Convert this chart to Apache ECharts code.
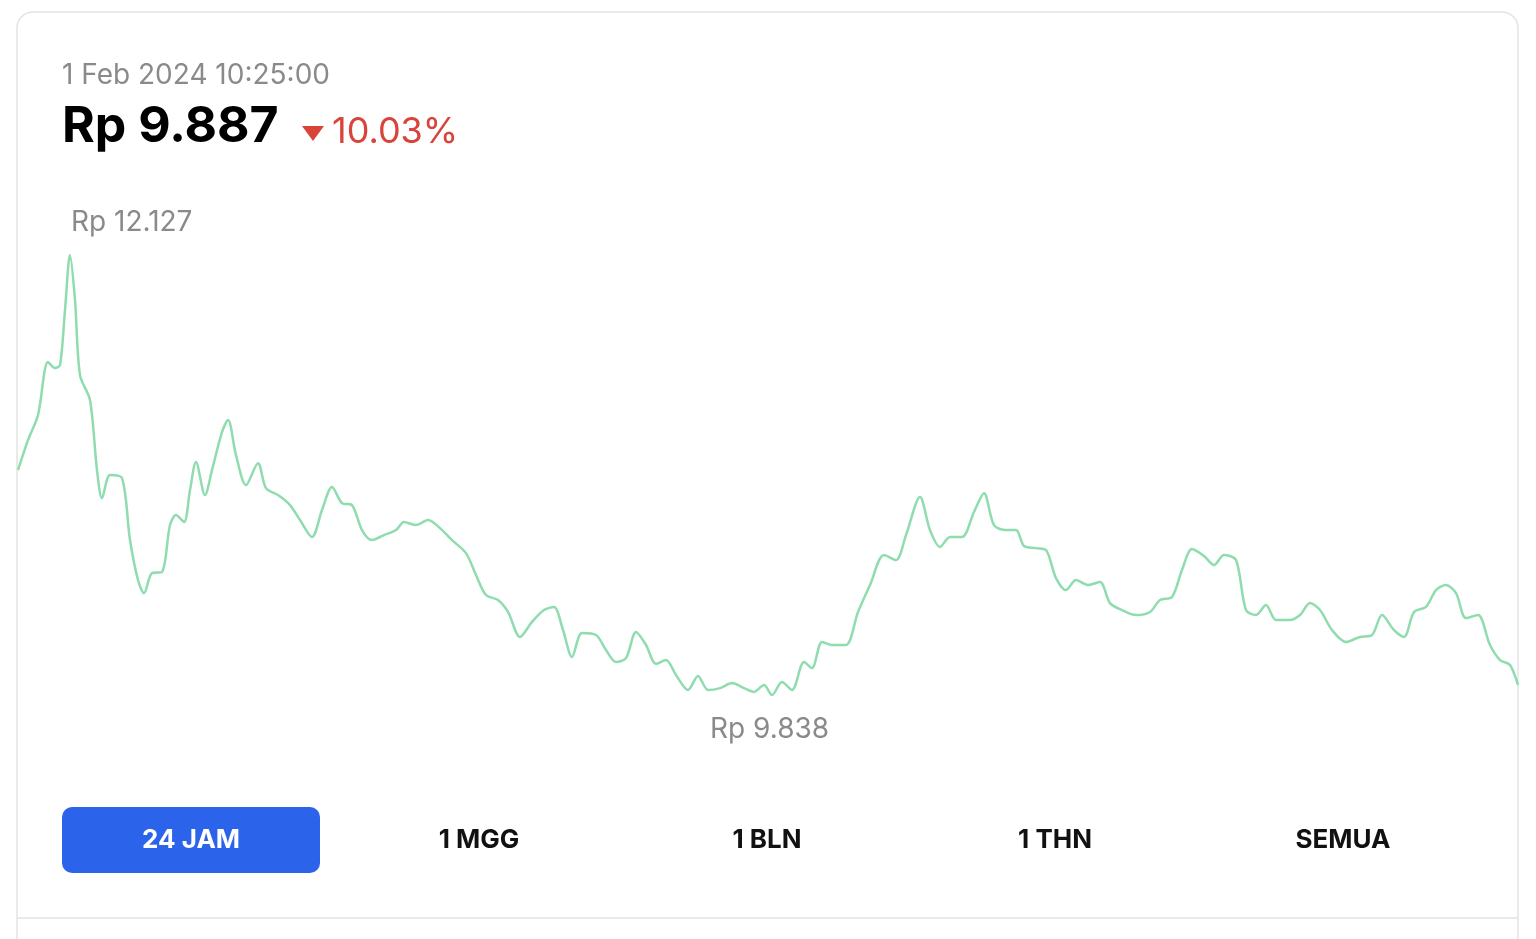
<!DOCTYPE html>
<html><head><meta charset="utf-8">
<script src="https://cdn.jsdelivr.net/npm/echarts@6/dist/echarts.min.js"></script>
<style>html,body{margin:0;padding:0;background:#fff}#c{width:1536px;height:939px}</style>
</head><body><div id="c"></div>
<script>
const timeIdx=[18,28,38,48,55,60,65,70,75,80,90,97,102,110,122,130,138,144,152,162,170,176,184,190,196,205,212,222,228,236,246,258,266,278,290,300,312,322,332,342,352,362,372,384,396,404,416,428,440,452,466,476,486,498,508,520,532,544,554,563,572,582,596,606,616,626,636,646,656,666,676,688,698,708,720,732,744,754,764,772,782,792,804,812,822,832,846,858,870,884,896,906,920,930,940,950,962,974,984,994,1006,1016,1024,1036,1046,1056,1066,1076,1088,1100,1110,1122,1136,1150,1160,1172,1182,1192,1204,1214,1224,1236,1246,1256,1266,1276,1290,1300,1310,1320,1332,1346,1360,1372,1382,1394,1404,1414,1426,1436,1446,1456,1466,1478,1490,1500,1510,1518];
const prices=[11008,11164,11294,11570,11539,11554,11840,12127,11892,11502,11372,11008,10862,10982,10966,10644,10436,10368,10472,10478,10722,10774,10738,10904,11050,10878,11008,11206,11268,11086,10930,11044,10914,10878,10826,10748,10660,10800,10920,10836,10826,10696,10644,10670,10696,10738,10722,10748,10706,10644,10576,10462,10358,10332,10270,10140,10218,10280,10296,10176,10036,10160,10150,10072,10010,10030,10166,10098,10000,10020,9942,9864,9937,9864,9874,9900,9874,9854,9890,9838,9906,9864,10010,9978,10114,10098,10098,10270,10410,10566,10540,10670,10868,10696,10608,10660,10660,10790,10888,10722,10696,10696,10613,10602,10592,10446,10384,10436,10410,10426,10316,10280,10254,10270,10332,10348,10488,10597,10561,10514,10566,10540,10280,10254,10306,10228,10228,10254,10316,10280,10176,10114,10140,10150,10254,10176,10140,10270,10296,10384,10410,10368,10238,10254,10098,10020,9994,9890];
const dateText='1 Feb 2024 10:25:00', priceText='Rp 9.887', changeText='10.03%';
const maxLabel='Rp 12.127', minLabel='Rp 9.838';
const buttons=['24 JAM','1 MGG','1 BLN','1 THN','SEMUA'];
const btnX=[191,479,767,1055,1343];
const font='"Inter","Noto Sans",sans-serif';
const ch=echarts.init(document.getElementById('c'));
const g=[
 {type:'rect',shape:{x:17,y:12,width:1501,height:960,r:16},style:{fill:'#fff',stroke:'#e3e3e3',lineWidth:1.5},z:-10},
 {type:'line',shape:{x1:17,y1:918,x2:1518,y2:918},style:{stroke:'#e3e3e3',lineWidth:1.5}},
 {type:'text',left:62,top:62,style:{text:dateText,font:'28px '+font,fill:'#8a8a8a'}},
 {type:'text',left:62,top:102,style:{text:priceText,font:'bold 50px '+font,fill:'#000'}},
 {type:'polygon',shape:{points:[[302,126],[324,126],[313,141]]},style:{fill:'#d9443a'}},
 {type:'text',left:332,top:114,style:{text:changeText,font:'36px '+font,fill:'#d9443a'}},
 {type:'text',left:71,top:209,style:{text:maxLabel,font:'28px '+font,fill:'#8a8a8a'}},
 {type:'text',left:710,top:716,style:{text:minLabel,font:'28px '+font,fill:'#8a8a8a'}},
 {type:'rect',shape:{x:62,y:807,width:258,height:66,r:10},style:{fill:'#2b64ea'}}
];
buttons.forEach((b,i)=>g.push({type:'text',x:btnX[i],y:840,style:{text:b,font:'bold 26px '+font,fill:i===0?'#fff':'#111',align:'center',verticalAlign:'middle'}}));
ch.setOption({animation:false,
 grid:{left:18,right:18,top:255,height:440},
 xAxis:{type:'value',min:18,max:1518,show:false},
 yAxis:{type:'value',min:9838,max:12127,show:false},
 graphic:g,
 series:[{type:'line',data:timeIdx.map((t,i)=>[t,prices[i]]),smooth:0.3,symbol:'none',lineStyle:{color:'#8fdcaf',width:2.5}}]
});
</script></body></html>
